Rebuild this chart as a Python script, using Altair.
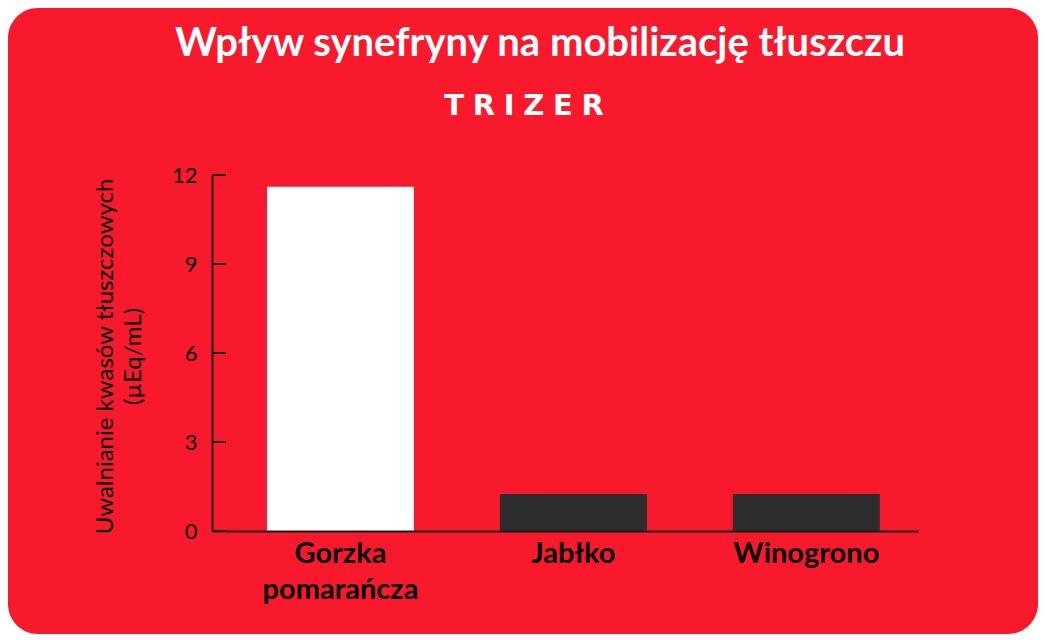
import pandas as pd
import altair as alt

# values
categories = ["Gorzka pomarańcza", "Jabłko", "Winogrono"]
release = [11.6, 1.25, 1.25]
bar_colors = ["#ffffff", "#2d2d2d", "#2d2d2d"]
y_ticks = [0, 3, 6, 9, 12]

RED = "#f9192d"
W, H = 706, 356
PAD = {"left": 204, "top": 167, "right": 120, "bottom": 103}

df = pd.DataFrame({"owoc": categories, "wartosc": release})
ticks_df = pd.DataFrame({"t": y_ticks})

y_scale = alt.Scale(domain=[0, 12])

# red rounded card behind everything
card = alt.Chart(pd.DataFrame({"k": [0]})).mark_rect(
    color=RED, cornerRadius=30
).encode(
    x=alt.value(-PAD["left"]), x2=alt.value(W + PAD["right"]),
    y=alt.value(-PAD["top"]), y2=alt.value(H + PAD["bottom"]),
)

bars = alt.Chart(df).mark_bar().encode(
    x=alt.X("owoc:N", sort=categories, title=None,
            scale=alt.Scale(paddingInner=0.369, paddingOuter=0.2, align=0.59),
            axis=alt.Axis(labelExpr="split(datum.label, ' ')", labelAngle=0,
                          labelFontSize=29, labelFontWeight="bold",
                          labelLineHeight=36, labelPadding=8, ticks=False,
                          zindex=2)),
    y=alt.Y("wartosc:Q", scale=y_scale,
            title=["Uwalnianie kwasów tłuszczowych", "(µEq/mL)"],
            axis=alt.Axis(values=y_ticks, ticks=False, labelPadding=15,
                          labelFontSize=22, titleFontSize=24,
                          titleFontWeight="normal", titleLineHeight=28,
                          titlePadding=26, titleY=181, zindex=2)),
    color=alt.Color("owoc:N", scale=alt.Scale(domain=categories, range=bar_colors),
                    legend=None),
)

# short inward tick marks on the y axis
tick_marks = alt.Chart(ticks_df).mark_rule(color="#1a1a1a", strokeWidth=2).encode(
    y=alt.Y("t:Q", scale=y_scale),
    x=alt.value(0), x2=alt.value(14),
)

sp = "\u2009\u200a"
logo = alt.Chart(pd.DataFrame({"txt": [sp.join("TRIZER")]})).mark_text(
    font="DejaVu Sans", fontWeight="bold", fontSize=29,
    color="white", align="center", baseline="alphabetic",
).encode(text="txt:N", x=alt.value(312), y=alt.value(-60))

chart = alt.layer(card, bars, tick_marks, logo).properties(
    width=W, height=H,
    autosize=alt.AutoSizeParams(type="none"),
    padding=PAD,
    background="white",
    title=alt.TitleParams(
        "Wpływ synefryny na mobilizację tłuszczu",
        anchor="middle", frame="group", dx=-25, fontSize=40, font="Lato",
        fontWeight="bold", color="white", zindex=2, baseline="alphabetic",
        offset=-88,
    ),
).configure_view(
    strokeWidth=0
).configure_axis(
    domainColor="#1a1a1a", domainWidth=2, grid=False,
    labelColor="black", titleColor="black", labelFont="Lato", titleFont="Lato",
)

chart.save("out.html", embed_options={"renderer": "svg", "actions": False})
